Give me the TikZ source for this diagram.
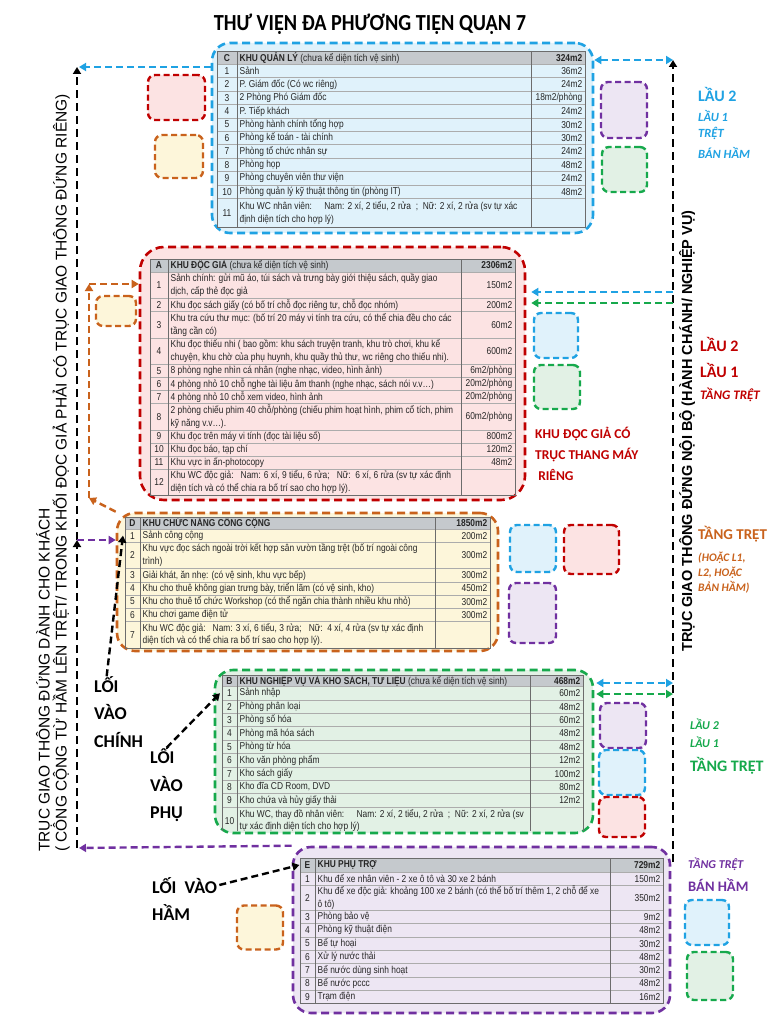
\documentclass[tikz,border=0pt]{standalone}
\usepackage{fontspec}
\setmainfont{Liberation Sans}
\newfontfamily\tabfont{Liberation Sans}[FakeStretch=0.84]
\newfontfamily\labfont{Carlito}
\newfontfamily\headfont{Carlito}[FakeStretch=0.88]
\usetikzlibrary{arrows.meta, positioning, calc}
\definecolor{zblue}{HTML}{1FA2E3}
\definecolor{zbluefill}{HTML}{E0F2FB}
\definecolor{zred}{HTML}{C00000}
\definecolor{zredfill}{HTML}{FCE3E3}
\definecolor{zorange}{HTML}{C9621C}
\definecolor{zorangefill}{HTML}{FDF6DA}
\definecolor{zgreen}{HTML}{16A94C}
\definecolor{zgreenfill}{HTML}{E2F1E5}
\definecolor{zpurple}{HTML}{7030A0}
\definecolor{zpurplefill}{HTML}{EDE6F3}
\definecolor{headgray}{HTML}{C5C9CD}

\newcommand{\tabtext}{\tabfont\fontsize{10}{12.6}\selectfont}
\newcommand{\tabbold}{\tabtext\bfseries}
% table helpers: columns, header row, body row, frame
\newcommand{\tabcols}[4]{\gdef\xa{#1}\gdef\xb{#2}\gdef\xc{#3}\gdef\xd{#4}}
\newcommand{\tabhead}[6]{%
  \gdef\tname{#1}\gdef\ytop{#2}%
  \pgfmathsetmacro{\ymid}{#2+#3/2}%
  \pgfmathsetmacro{\ynew}{#2+#3}%
  \fill[headgray] (\xa,#2) rectangle (\xd,\ynew);
  \node[cellno, font=\tabbold] (#1-h) at ({(\xa+\xb)/2},\ymid) {#4};
  \node[celltext] (#1-ht) at (\xb,\ymid) {#5};
  \node[cellarea, font=\tabbold] (#1-ha) at (\xd,\ymid) {#6};
  \draw[rowline] (\xa,\ynew) -- (\xd,\ynew);
  \global\let\ycur\ynew}
\newcommand{\tabrow}[4]{%
  \pgfmathsetmacro{\ymid}{\ycur+#1/2}%
  \pgfmathsetmacro{\ynew}{\ycur+#1}%
  \draw[rowline] (\xa,\ynew) -- (\xd,\ynew);
  \node[cellno] (\tname-#2) at ({(\xa+\xb)/2},\ymid) {#2};
  \node[celltext] (\tname-#2t) at (\xb,\ymid) {#3};
  \node[cellarea] (\tname-#2a) at (\xd,\ymid) {#4};
  \global\let\ycur\ynew}
\newcommand{\tabframe}{%
  \draw[tabline] (\xb,\ytop) -- (\xb,\ycur) (\xc,\ytop) -- (\xc,\ycur);
  \draw[tabline] (\xa,\ytop) rectangle (\xd,\ycur);}

\tikzset{
  zone/.style={rounded corners=18pt, line width=2.6pt, dash pattern=on 8pt off 4.5pt, inner sep=0pt},
  sbox/.style={rounded corners=7pt, line width=2.4pt, dash pattern=on 6pt off 3.5pt, inner sep=0pt, draw=#1, fill=#1fill},
  axis/.style={draw=black, line width=2.6pt, dash pattern=on 8pt off 5pt},
  flow/.style={line width=2.4pt, dash pattern=on 7pt off 4pt},
  tip/.style={-{Triangle[width=8pt, length=7pt]}},
  twotip/.style={{Triangle[width=8pt, length=7pt]}-{Triangle[width=8pt, length=7pt]}},
  cellno/.style={font=\tabtext, inner sep=0pt, text=black!85},
  celltext/.style={font=\tabtext, anchor=west, align=left, inner xsep=2.5pt, inner ysep=0pt, text=black!85},
  cellarea/.style={font=\tabtext, anchor=east, inner xsep=2.5pt, inner ysep=0pt, text=black!85},
  rowline/.style={draw=gray!65, line width=0.5pt},
  tabline/.style={draw=gray!85!black, line width=0.6pt},
  labbig/.style={anchor=base west, inner sep=0pt, font=\labfont\bfseries\fontsize{16}{18}\selectfont},
  labit/.style={anchor=base west, inner sep=0pt, font=\labfont\bfseries\itshape\fontsize{12.5}{14}\selectfont},
  entry/.style={anchor=west, align=left, inner sep=0pt, font=\labfont\bfseries\fontsize{18}{27.5}\selectfont},
}

\begin{document}
\begin{tikzpicture}[x=1pt, y=-1pt, >=Stealth]
    \useasboundingbox[fill=white] (0,0) rectangle (768,1024);

    % ── TITLE ─────────────────────────────────────────────────────────
    \node[anchor=base, font=\headfont\bfseries\fontsize{23}{26}\selectfont] (title) at (370,31) {THƯ VIỆN ĐA PHƯƠNG TIỆN QUẬN 7};

    % ── ZONES ─────────────────────────────────────────────────────────
    \node[zone, draw=zblue, fill=zbluefill, minimum width=381pt, minimum height=190pt] (zoneC) at (402.5,138) {};
    \node[zone, draw=zred, fill=zredfill, minimum width=385pt, minimum height=253pt, rounded corners=24pt] (zoneA) at (332.5,373.5) {};
    \node[zone, draw=zorange, fill=zorangefill, minimum width=381pt, minimum height=138pt] (zoneD) at (307.5,582) {};
    \node[zone, draw=zgreen, fill=zgreenfill, minimum width=378pt, minimum height=163pt] (zoneB) at (404,751.5) {};
    \node[zone, draw=zpurple, fill=zpurplefill, minimum width=377pt, minimum height=166pt] (zoneE) at (481.5,930) {};

    % ── C: KHU QUẢN LÝ ────────────────────────────────────────────────
    \tabcols{217}{237}{531}{585}
    \tabhead{C}{51}{13.3}{C}{{\bfseries KHU QUẢN LÝ} (chưa kể diện tích vệ sinh)}{324m2}
    \tabrow{13.4}{1}{Sảnh}{36m2}
    \tabrow{13.4}{2}{P. Giám đốc (Có wc riêng)}{24m2}
    \tabrow{13.4}{3}{2 Phòng Phó Giám đốc}{18m2/phòng}
    \tabrow{13.4}{4}{P. Tiếp khách}{24m2}
    \tabrow{13.4}{5}{Phòng hành chính tổng hợp}{30m2}
    \tabrow{13.4}{6}{Phòng kế toán - tài chính}{30m2}
    \tabrow{13.4}{7}{Phòng tổ chức nhân sự}{24m2}
    \tabrow{13.4}{8}{Phòng họp}{48m2}
    \tabrow{13.4}{9}{Phòng chuyên viên thư viện}{24m2}
    \tabrow{13.4}{10}{Phòng quản lý kỹ thuật thông tin (phòng IT)}{48m2}
    \tabrow{29}{11}{Khu WC nhân viên:\quad\ Nam: 2 xí, 2 tiểu, 2 rửa\ \ ;\ \ Nữ: 2 xí, 2 rửa (sv tự xác\\định diện tích cho hợp lý)}{}
    \tabframe

    % ── A: KHU ĐỘC GIẢ ────────────────────────────────────────────────
    \tabcols{150}{168}{461}{515}
    \tabhead{A}{259}{13}{A}{{\bfseries KHU ĐỘC GIẢ} (chưa kể diện tích vệ sinh)}{2306m2}
    \tabrow{26.5}{1}{Sảnh chính: gửi mũ áo, túi sách và trưng bày giới thiệu sách, quầy giao\\dịch, cấp thẻ đọc giả}{150m2}
    \tabrow{13}{2}{Khu đọc sách giấy (có bố trí chỗ đọc riêng tư, chỗ đọc nhóm)}{200m2}
    \tabrow{26.5}{3}{Khu tra cứu thư mục: (bố trí 20 máy vi tính tra cứu, có thể chia đều cho các\\tầng cần có)}{60m2}
    \tabrow{26.5}{4}{Khu đọc thiếu nhi ( bao gồm: khu sách truyện tranh, khu trò chơi, khu kể\\chuyện, khu chờ của phụ huynh, khu quầy thủ thư, wc riêng cho thiếu nhi).}{600m2}
    \tabrow{13}{5}{8 phòng nghe nhìn cá nhân (nghe nhạc, video, hình ảnh)}{6m2/phòng}
    \tabrow{13}{6}{4 phòng nhỏ 10 chỗ nghe tài liệu âm thanh (nghe nhạc, sách nói v.v…)}{20m2/phòng}
    \tabrow{13}{7}{4 phòng nhỏ 10 chỗ xem video, hình ảnh}{20m2/phòng}
    \tabrow{26.5}{8}{2 phòng chiếu phim 40 chỗ/phòng (chiếu phim hoạt hình, phim cổ tích, phim\\kỹ năng v.v…).}{60m2/phòng}
    \tabrow{13}{9}{Khu đọc trên máy vi tính (đọc tài liệu số)}{800m2}
    \tabrow{13}{10}{Khu đọc báo, tạp chí}{120m2}
    \tabrow{13}{11}{Khu vực in ấn-photocopy}{48m2}
    \tabrow{26.5}{12}{Khu WC độc giả:\ \ \ Nam: 6 xí, 9 tiểu, 6 rửa;\ \ \ Nữ:\ \ 6 xí, 6 rửa (sv tự xác định\\diện tích và có thể chia ra bố trí sao cho hợp lý).}{}
    \tabframe

    % ── D: KHU CHỨC NĂNG CÔNG CỘNG ────────────────────────────────────
    \tabcols{125}{140}{435}{490}
    \tabhead{D}{517}{12}{D}{{\bfseries KHU CHỨC NĂNG CÔNG CỘNG}}{1850m2}
    \tabrow{13.2}{1}{Sảnh công cộng}{200m2}
    \tabrow{26.4}{2}{Khu vực đọc sách ngoài trời kết hợp sân vườn tầng trệt (bố trí ngoài công\\trình)}{300m2}
    \tabrow{13.2}{3}{Giải khát, ăn nhẹ: (có vệ sinh, khu vực bếp)}{300m2}
    \tabrow{13.2}{4}{Khu cho thuê không gian trưng bày, triển lãm (có vệ sinh, kho)}{450m2}
    \tabrow{13.2}{5}{Khu cho thuê tổ chức Workshop (có thể ngăn chia thành nhiều khu nhỏ)}{300m2}
    \tabrow{13.2}{6}{Khu chơi game điện tử}{300m2}
    \tabrow{26.4}{7}{Khu WC độc giả:\ \ \ Nam: 3 xí, 6 tiểu, 3 rửa;\ \ \ Nữ:\ \ 4 xí, 4 rửa (sv tự xác định\\diện tích và có thể chia ra bố trí sao cho hợp lý).}{}
    \tabframe

    % ── B: KHU NGHIỆP VỤ VÀ KHO SÁCH ──────────────────────────────────
    \begin{scope}
        \clip (0,660) rectangle (768,830);
        \tabcols{222}{237}{530}{583}
        \tabhead{B}{675}{11.5}{B}{{\bfseries KHU NGHIỆP VỤ VÀ KHO SÁCH, TƯ LIỆU} (chưa kể diện tích vệ sinh)}{468m2}
        \tabrow{13.4}{1}{Sảnh nhập}{60m2}
        \tabrow{13.4}{2}{Phòng phân loại}{48m2}
        \tabrow{13.4}{3}{Phòng số hóa}{60m2}
        \tabrow{13.4}{4}{Phòng mã hóa sách}{48m2}
        \tabrow{13.4}{5}{Phòng từ hóa}{48m2}
        \tabrow{13.4}{6}{Kho văn phòng phẩm}{12m2}
        \tabrow{13.4}{7}{Kho sách giấy}{100m2}
        \tabrow{13.4}{8}{Kho đĩa CD Room, DVD}{80m2}
        \tabrow{13.4}{9}{Kho chứa và hủy giấy thải}{12m2}
        \tabrow{27}{10}{Khu WC, thay đồ nhân viên:\quad\ Nam: 2 xí, 2 tiểu, 2 rửa\ \ ;\ \ Nữ: 2 xí, 2 rửa (sv\\tự xác định diện tích cho hợp lý)}{}
        \tabframe
    \end{scope}

    % ── E: KHU PHỤ TRỢ ────────────────────────────────────────────────
    \tabcols{300}{315}{610}{663}
    \tabhead{E}{858}{14}{E}{{\bfseries KHU PHỤ TRỢ}}{729m2}
    \tabrow{13.3}{1}{Khu để xe nhân viên - 2 xe ô tô và 30 xe 2 bánh}{150m2}
    \tabrow{25}{2}{Khu để xe độc giả: khoảng 100 xe 2 bánh (có thể bố trí thêm 1, 2 chỗ để xe\\ô tô)}{350m2}
    \tabrow{13.3}{3}{Phòng bảo vệ}{9m2}
    \tabrow{13.3}{4}{Phòng kỹ thuật điện}{48m2}
    \tabrow{13.3}{5}{Bể tự hoại}{30m2}
    \tabrow{13.3}{6}{Xử lý nước thải}{48m2}
    \tabrow{13.3}{7}{Bể nước dùng sinh hoạt}{30m2}
    \tabrow{13.3}{8}{Bể nước pccc}{48m2}
    \tabrow{13.3}{9}{Trạm điện}{16m2}
    \tabframe

    % ── SMALL ZONE MARKERS ────────────────────────────────────────────
    \node[sbox=zred, minimum width=57pt, minimum height=45pt] (cRed) at (176.5,97.5) {};
    \node[sbox=zorange, minimum width=48pt, minimum height=43pt] (cOrange) at (179,156.5) {};
    \node[sbox=zpurple, minimum width=46pt, minimum height=56pt] (cPurple) at (624,110) {};
    \node[sbox=zgreen, minimum width=45pt, minimum height=45pt] (cGreen) at (624.5,169.5) {};
    \node[sbox=zorange, minimum width=40pt, minimum height=30pt] (aOrange) at (116,311) {};
    \node[sbox=zblue, minimum width=44pt, minimum height=45pt] (aBlue) at (556,335.5) {};
    \node[sbox=zgreen, minimum width=46pt, minimum height=44pt] (aGreen) at (557,387) {};
    \node[sbox=zblue, minimum width=46pt, minimum height=47pt] (dBlue) at (533,548.5) {};
    \node[sbox=zred, minimum width=55pt, minimum height=49pt] (dRed) at (591.5,549.5) {};
    \node[sbox=zpurple, minimum width=47pt, minimum height=60pt] (dPurple) at (532.5,613) {};
    \node[sbox=zpurple, minimum width=46pt, minimum height=45pt] (bPurple) at (623,725.5) {};
    \node[sbox=zblue, minimum width=46pt, minimum height=45pt] (bBlue) at (622,772.5) {};
    \node[sbox=zred, minimum width=46pt, minimum height=40pt] (bRed) at (622,817) {};
    \node[sbox=zorange, minimum width=46pt, minimum height=44pt] (eOrange) at (260,927.5) {};
    \node[sbox=zblue, minimum width=44pt, minimum height=45pt] (eBlue) at (707,922.5) {};
    \node[sbox=zgreen, minimum width=46pt, minimum height=48pt] (eGreen) at (710,976) {};

    % ── RIGHT: INTERNAL AXIS ──────────────────────────────────────────
    \coordinate (rTop) at (673,60);
    \coordinate (rBot) at (673,862);
    \coordinate (rA1) at (673,292);
    \coordinate (rA2) at (673,303);
    \coordinate (rB1) at (673,683);
    \coordinate (rB2) at (673,694);
    \draw[axis, tip] (rBot) -- (rTop);
    \draw[flow, zblue, twotip] (zoneC.east |- rTop) -- (rTop);
    \draw[flow, zblue, tip, shorten >=5pt] (rA1) -- (zoneA.east |- rA1);
    \draw[flow, zgreen, tip, shorten >=5pt] (rA2) -- (zoneA.east |- rA2);
    \draw[flow, zblue, twotip] ([xshift=2pt]zoneB.east |- rB1) -- (rB1);
    \draw[flow, zgreen, twotip] ([xshift=2pt]zoneB.east |- rB2) -- (rB2);
    \node[rotate=90, inner sep=0pt, font=\bfseries\fontsize{14.5}{16}\selectfont] (rightAxisText) at (687,431) {TRỤC GIAO THÔNG ĐỨNG NỘI BỘ (HÀNH CHÁNH/ NGHIỆP VỤ)};

    % ── LEFT: VISITOR AXIS ────────────────────────────────────────────
    \coordinate (lTop) at (77,67);
    \coordinate (lMid) at (77,540);
    \coordinate (lBot) at (77,848);
    \draw[axis, tip] (lBot) -- (lMid);
    \draw[axis, tip] (lMid) -- (lTop);
    \draw[flow, zblue, tip, shorten >=2pt] (zoneC.west |- lTop) -- (lTop);
    \draw[flow, zpurple, tip] (lMid) -- (zoneD.west |- lMid);
    \draw[flow, zpurple, tip, shorten >=2pt] (zoneE.north west) -- (lBot);
    \node[rotate=90, anchor=west, align=left, inner sep=0pt, font=\fontsize{15.5}{17}\selectfont] (leftAxisText) at (53,852) {TRỤC GIAO THÔNG ĐỨNG DÀNH CHO KHÁCH\\( CÔNG CỘNG TỪ HẦM LÊN TRỆT/ TRONG KHỐI ĐỌC GIẢ PHẢI CÓ TRỤC GIAO THÔNG ĐỨNG RIÊNG)};

    % public zone link to readers
    \coordinate (oLow) at (89,498);
    \coordinate (oHigh) at (89,284);
    \draw[flow, zorange, tip] (zoneD.north west) -- (oLow);
    \draw[flow, zorange, tip] (oLow) -- (oHigh);
    \draw[flow, zorange, tip] (oHigh) -- (zoneA.west |- oHigh);

    % ── ENTRANCES ─────────────────────────────────────────────────────
    \node[entry] (entryMain) at (94,712) {LỐI\\VÀO\\CHÍNH};
    \node[entry] (entrySide) at (150,785) {LỐI\\VÀO\\PHỤ};
    \node[entry] (entryBase) at (152,899) {LỐI\ \ VÀO\\HẦM};
    \draw[flow, black, tip] ([xshift=-12pt]entryMain.north) -- ([xshift=-7pt]D-1.west);
    \draw[flow, black, tip] (entrySide.north) -- ([xshift=-7pt]B-1.west);
    \draw[flow, black, tip] ([xshift=2pt, yshift=14pt]entryBase.east) -- ([xshift=-5pt]E-h.west);

    % ── FLOOR LABELS ──────────────────────────────────────────────────
    \node[labbig, zblue] (cFloor1) at (698,102) {LẦU 2};
    \node[labit, zblue] (cFloor2) at (698,122) {LẦU 1};
    \node[labit, zblue] (cFloor3) at (698,138) {TRỆT};
    \node[labit, zblue] (cFloor4) at (698,159) {BÁN HẦM};

    \node[labbig, zred] (aFloor1) at (700,351) {LẦU 2};
    \node[labbig, zred] (aFloor2) at (700,377) {LẦU 1};
    \node[labit, zred, font=\labfont\bfseries\itshape\fontsize{13}{15}\selectfont] (aFloor3) at (700,399) {TẦNG TRỆT};
    \node[anchor=base west, align=left, inner sep=0pt, text=zred, font=\labfont\bfseries\fontsize{13.5}{21}\selectfont] (aNote) at (535,480) {KHU ĐỌC GIẢ CÓ\\TRỤC THANG MÁY\\\ RIÊNG};

    \node[labbig, zorange, font=\labfont\bfseries\fontsize{15}{17}\selectfont] (dFloor1) at (698,539) {TẦNG TRỆT};
    \node[anchor=base west, align=left, inner sep=0pt, text=zorange, font=\labfont\bfseries\itshape\fontsize{11.5}{15}\selectfont] (dFloor2) at (698,591) {(HOẶC L1,\\L2, HOẶC\\BẢN HẦM)};

    \node[labit, zgreen, font=\labfont\bfseries\itshape\fontsize{12}{14}\selectfont] (bFloor1) at (690,729) {LẦU 2};
    \node[labit, zgreen, font=\labfont\bfseries\itshape\fontsize{12}{14}\selectfont] (bFloor2) at (690,747) {LẦU 1};
    \node[labbig, zgreen] (bFloor3) at (690,771) {TẦNG TRỆT};

    \node[labit, zpurple, font=\labfont\bfseries\itshape\fontsize{12}{14}\selectfont] (eFloor1) at (688,868) {TẦNG TRỆT};
    \node[labbig, zpurple, font=\labfont\bfseries\fontsize{14.5}{16}\selectfont] (eFloor2) at (688,891) {BÁN HẦM};
\end{tikzpicture}
\end{document}
